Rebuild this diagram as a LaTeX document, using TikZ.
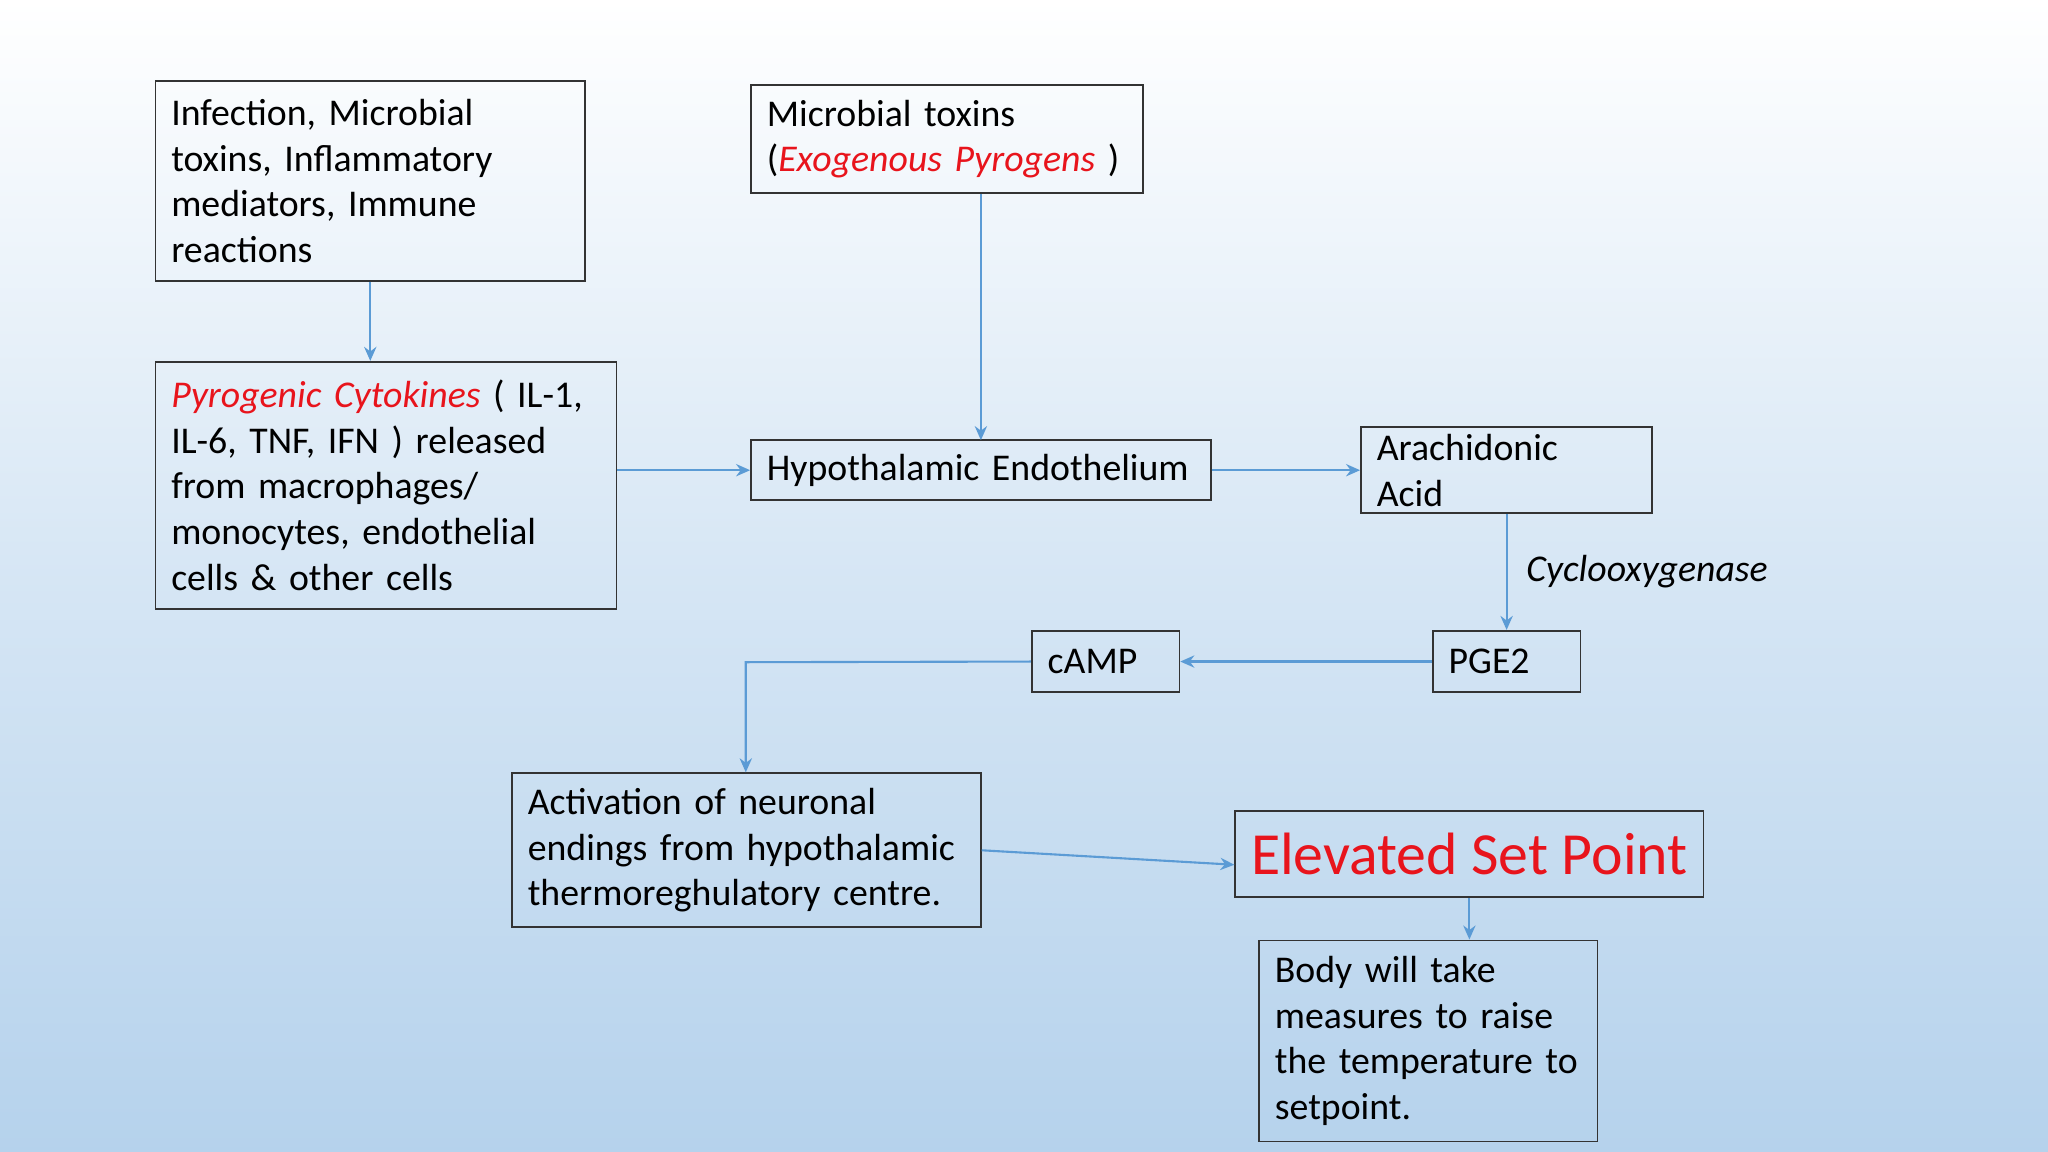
\documentclass[tikz,border=0pt]{standalone}
\usepackage{fontspec}
\setmainfont{Carlito}
\usetikzlibrary{arrows.meta}
\definecolor{ln}{HTML}{5B9BD5}
\definecolor{rd}{HTML}{E8141C}
\hyphenpenalty=10000
\exhyphenpenalty=10000
\begin{document}
\begin{tikzpicture}[x=0.01306cm,y=-0.01306cm,
 box/.style={draw=black!80,line width=0.5pt,inner xsep=4.5pt,inner ysep=2pt,align=left,font=\fontsize{10.75}{13}\selectfont},
 ar/.style={draw=ln,line width=0.6pt,-{Stealth[length=4pt,width=3.5pt]}}]
\shade[top color=white,bottom color=ln!45!white,middle color=ln!25!white] (0,0) rectangle (1568,882);
\useasboundingbox (0,0) rectangle (1568,882);
\newcommand\bx[6]{\node[box,minimum width={(#4-#2)*0.3716pt},minimum height={(#5-#3)*0.3716pt},text width={(#4-#2)*0.3716pt-9pt}] (#1) at ({(#2+#4)/2},{(#3+#5)/2}) {#6};}
\bx{a}{119}{62}{448}{215}{Infection, Microbial\\toxins, Inflammatory\\mediators, Immune\\reactions}
\bx{b}{119}{277}{472}{466}{\textcolor{rd}{\itshape Pyrogenic Cytokines} ( IL-1,\\IL-6, TNF, IFN ) released\\from macrophages/\\monocytes, endothelial\\cells \& other cells}
\bx{c}{575}{65}{875}{148}{Microbial toxins\\(\textcolor{rd}{\itshape Exogenous Pyrogens}~)}
\bx{d}{575}{337}{927}{383}{Hypothalamic Endothelium}
\bx{e}{1042}{337}{1265}{383}{Arachidonic Acid}
\bx{f}{1097}{483}{1210}{530}{PGE2}
\bx{g}{790}{483}{903}{530}{cAMP}
\bx{h}{392}{592}{751}{710}{Activation of neuronal\\endings from hypothalamic\\thermoreghulatory centre.}
\node[box,minimum width={358*0.3716pt},minimum height={66*0.3716pt},align=center,font=\fontsize{17}{20}\selectfont,text=rd] (i) at (1125,654) {Elevated Set Point};
\bx{j}{964}{720}{1223}{874}{Body will take\\measures to raise\\the temperature to\\setpoint.}
\coordinate (gh) at (571,507);
\draw[ar] (a) -- (a.south|-b.north);
\draw[ar] (c.south-|751,0) -- (751,337);
\draw[ar] (b.east|-d) -- (d.west);
\draw[ar] (d) -- (e);
\draw[ar] (e.south) -- node[right,font=\fontsize{10.75}{13}\selectfont\itshape,xshift=2pt]{Cyclooxygenase} (f.north-|e.south);
\draw[ar] (f) -- (g);
\draw[ar] (g.west) -- (gh) -- (gh|-h.north);
\draw[ar] (h.east) -- ([yshift=-3]i.west);
\draw[ar] (i.south) -- (j.north-|i.south);
\end{tikzpicture}
\end{document}
